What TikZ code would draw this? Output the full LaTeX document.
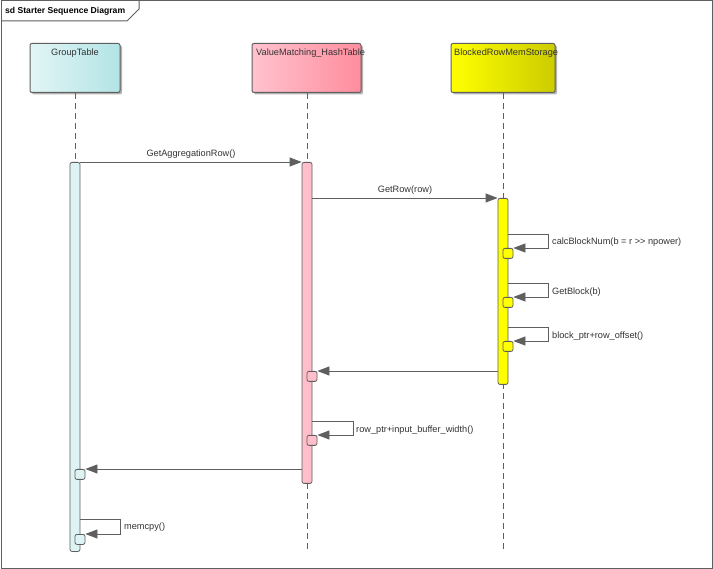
\documentclass[tikz,border=0pt]{standalone}
\usepackage{fontspec}
\setmainfont{Liberation Sans}
\usetikzlibrary{arrows.meta,shadows,calc}
\definecolor{edge}{HTML}{5F5F5F}
\definecolor{txt}{HTML}{333333}
\definecolor{gtL}{HTML}{E2F5F6}
\definecolor{gtR}{HTML}{B2E4E5}
\definecolor{gtA}{HTML}{DDF3F4}
\definecolor{htL}{HTML}{FFC3CE}
\definecolor{htR}{HTML}{FF8C9E}
\definecolor{htA}{HTML}{FFBECA}
\definecolor{brL}{HTML}{FFFF00}
\definecolor{brR}{HTML}{CCCC00}
\definecolor{brA}{HTML}{FFFF00}
\tikzset{
  headbox/.style={draw=edge, line width=1pt, rounded corners=2pt, minimum height=49pt, anchor=north,
    drop shadow={shadow xshift=2pt, shadow yshift=-2pt, fill=black!30, opacity=1}},
  headtxt/.style={text=txt, font=\fontsize{9.2}{10}\selectfont, inner sep=0pt},
  life/.style={draw=edge, line width=0.8pt, dash pattern=on 6pt off 4pt},
  actbar/.style={draw=edge, line width=0.8pt, rounded corners=2pt, minimum width=10pt, anchor=north, inner sep=0pt},
  selfbox/.style={draw=edge, line width=0.8pt, rounded corners=2pt, minimum width=10pt, minimum height=10pt, anchor=north, inner sep=0pt},
  msg/.style={draw=edge, line width=0.8pt, -{Triangle[length=12pt,width=9pt]}},
  msgtxt/.style={text=txt, font=\fontsize{9.2}{10}\selectfont, inner sep=0pt},
}
\begin{document}
\begin{tikzpicture}[x=1pt,y=-1pt]
\useasboundingbox (0,0) rectangle (713,569);
\fill[white] (0,0) rectangle (713,569);
\draw[edge, line width=1pt] (1,1) rectangle (712,568);
\draw[edge, line width=1pt] (1,21) -- (127,21) -- (139,9) -- (139,1);
\node[anchor=west, inner sep=0pt, font=\bfseries\fontsize{8.6}{9}\selectfont, text=black] (title) at (5,11) {sd Starter Sequence Diagram};

% heads
\node[headbox, minimum width=90pt, left color=gtL, right color=gtR] (gt) at (75,43) {};
\node[headtxt] (gtt) at (75,53) {GroupTable};
\node[headbox, minimum width=109pt, left color=htL, right color=htR] (ht) at (306.5,43) {};
\node[headtxt, anchor=west] (htt) at (256,53) {ValueMatching\_HashTable};
\node[headbox, minimum width=104pt, left color=brL, right color=brR] (br) at (503,43) {};
\node[headtxt, anchor=west] (brt) at (454,53) {BlockedRowMemStorage};

% lifelines
\coordinate (gtend) at (75,553);
\coordinate (htend) at (307,549);
\coordinate (brend) at (503,549);
\draw[life] (gt.south) -- (gtend);
\draw[life] (ht.south -| htend) -- (htend);
\draw[life] (br.south) -- (brend);

% activation bars
\node[actbar, fill=gtA, minimum height=389pt] (gta) at (75,162) {};
\node[actbar, fill=htA, minimum height=321pt] (hta) at (307,162) {};
\node[actbar, fill=brA, minimum height=186pt] (bra) at (503,198) {};

% self / return boxes
\node[selfbox, fill=brA] (b1) at (508,248) {};
\node[selfbox, fill=brA] (b2) at (508,297) {};
\node[selfbox, fill=brA] (b3) at (508,341) {};
\node[selfbox, fill=htA] (h1) at (312,371) {};
\node[selfbox, fill=htA] (h2) at (312,435) {};
\node[selfbox, fill=gtA] (g1) at (80,469) {};
\node[selfbox, fill=gtA] (g2) at (80,534) {};

% messages
\draw[msg] (gta.north east) -- (hta.north west)
  node[msgtxt, midway, above=3pt] (m1) {GetAggregationRow()};
\draw[msg] (hta.east |- bra.north) -- (bra.north west)
  node[msgtxt, midway, above=3pt] (m2) {GetRow(row)};

\draw[msg] ($(b1.north -| bra.east)+(0,-14)$) -- ++(40,0) |- (b1.north east);
\node[msgtxt, anchor=west] (l1) at (552,242) {calcBlockNum(b = r >{}> npower)};
\draw[msg] ($(b2.north -| bra.east)+(0,-14)$) -- ++(40,0) |- (b2.north east);
\node[msgtxt, anchor=west] (l2) at (552,292) {GetBlock(b)};
\draw[msg] ($(b3.north -| bra.east)+(0,-14)$) -- ++(40,0) |- (b3.north east);
\node[msgtxt, anchor=west] (l3) at (552,336) {block\_ptr+row\_offset()};

\draw[msg] (h1.north -| bra.west) -- (h1.north east);
\draw[msg] ($(h2.north -| hta.east)+(0,-14)$) -- ++(41,0) |- (h2.north east);
\node[msgtxt, anchor=west] (l4) at (356,430) {row\_ptr+input\_buffer\_width()};

\draw[msg] (g1.north -| hta.west) -- (g1.north east);
\draw[msg] ($(g2.north -| gta.east)+(0,-15)$) -- ++(40,0) |- (g2.north east);
\node[msgtxt, anchor=west] (l5) at (124,527) {memcpy()};
\end{tikzpicture}
\end{document}
